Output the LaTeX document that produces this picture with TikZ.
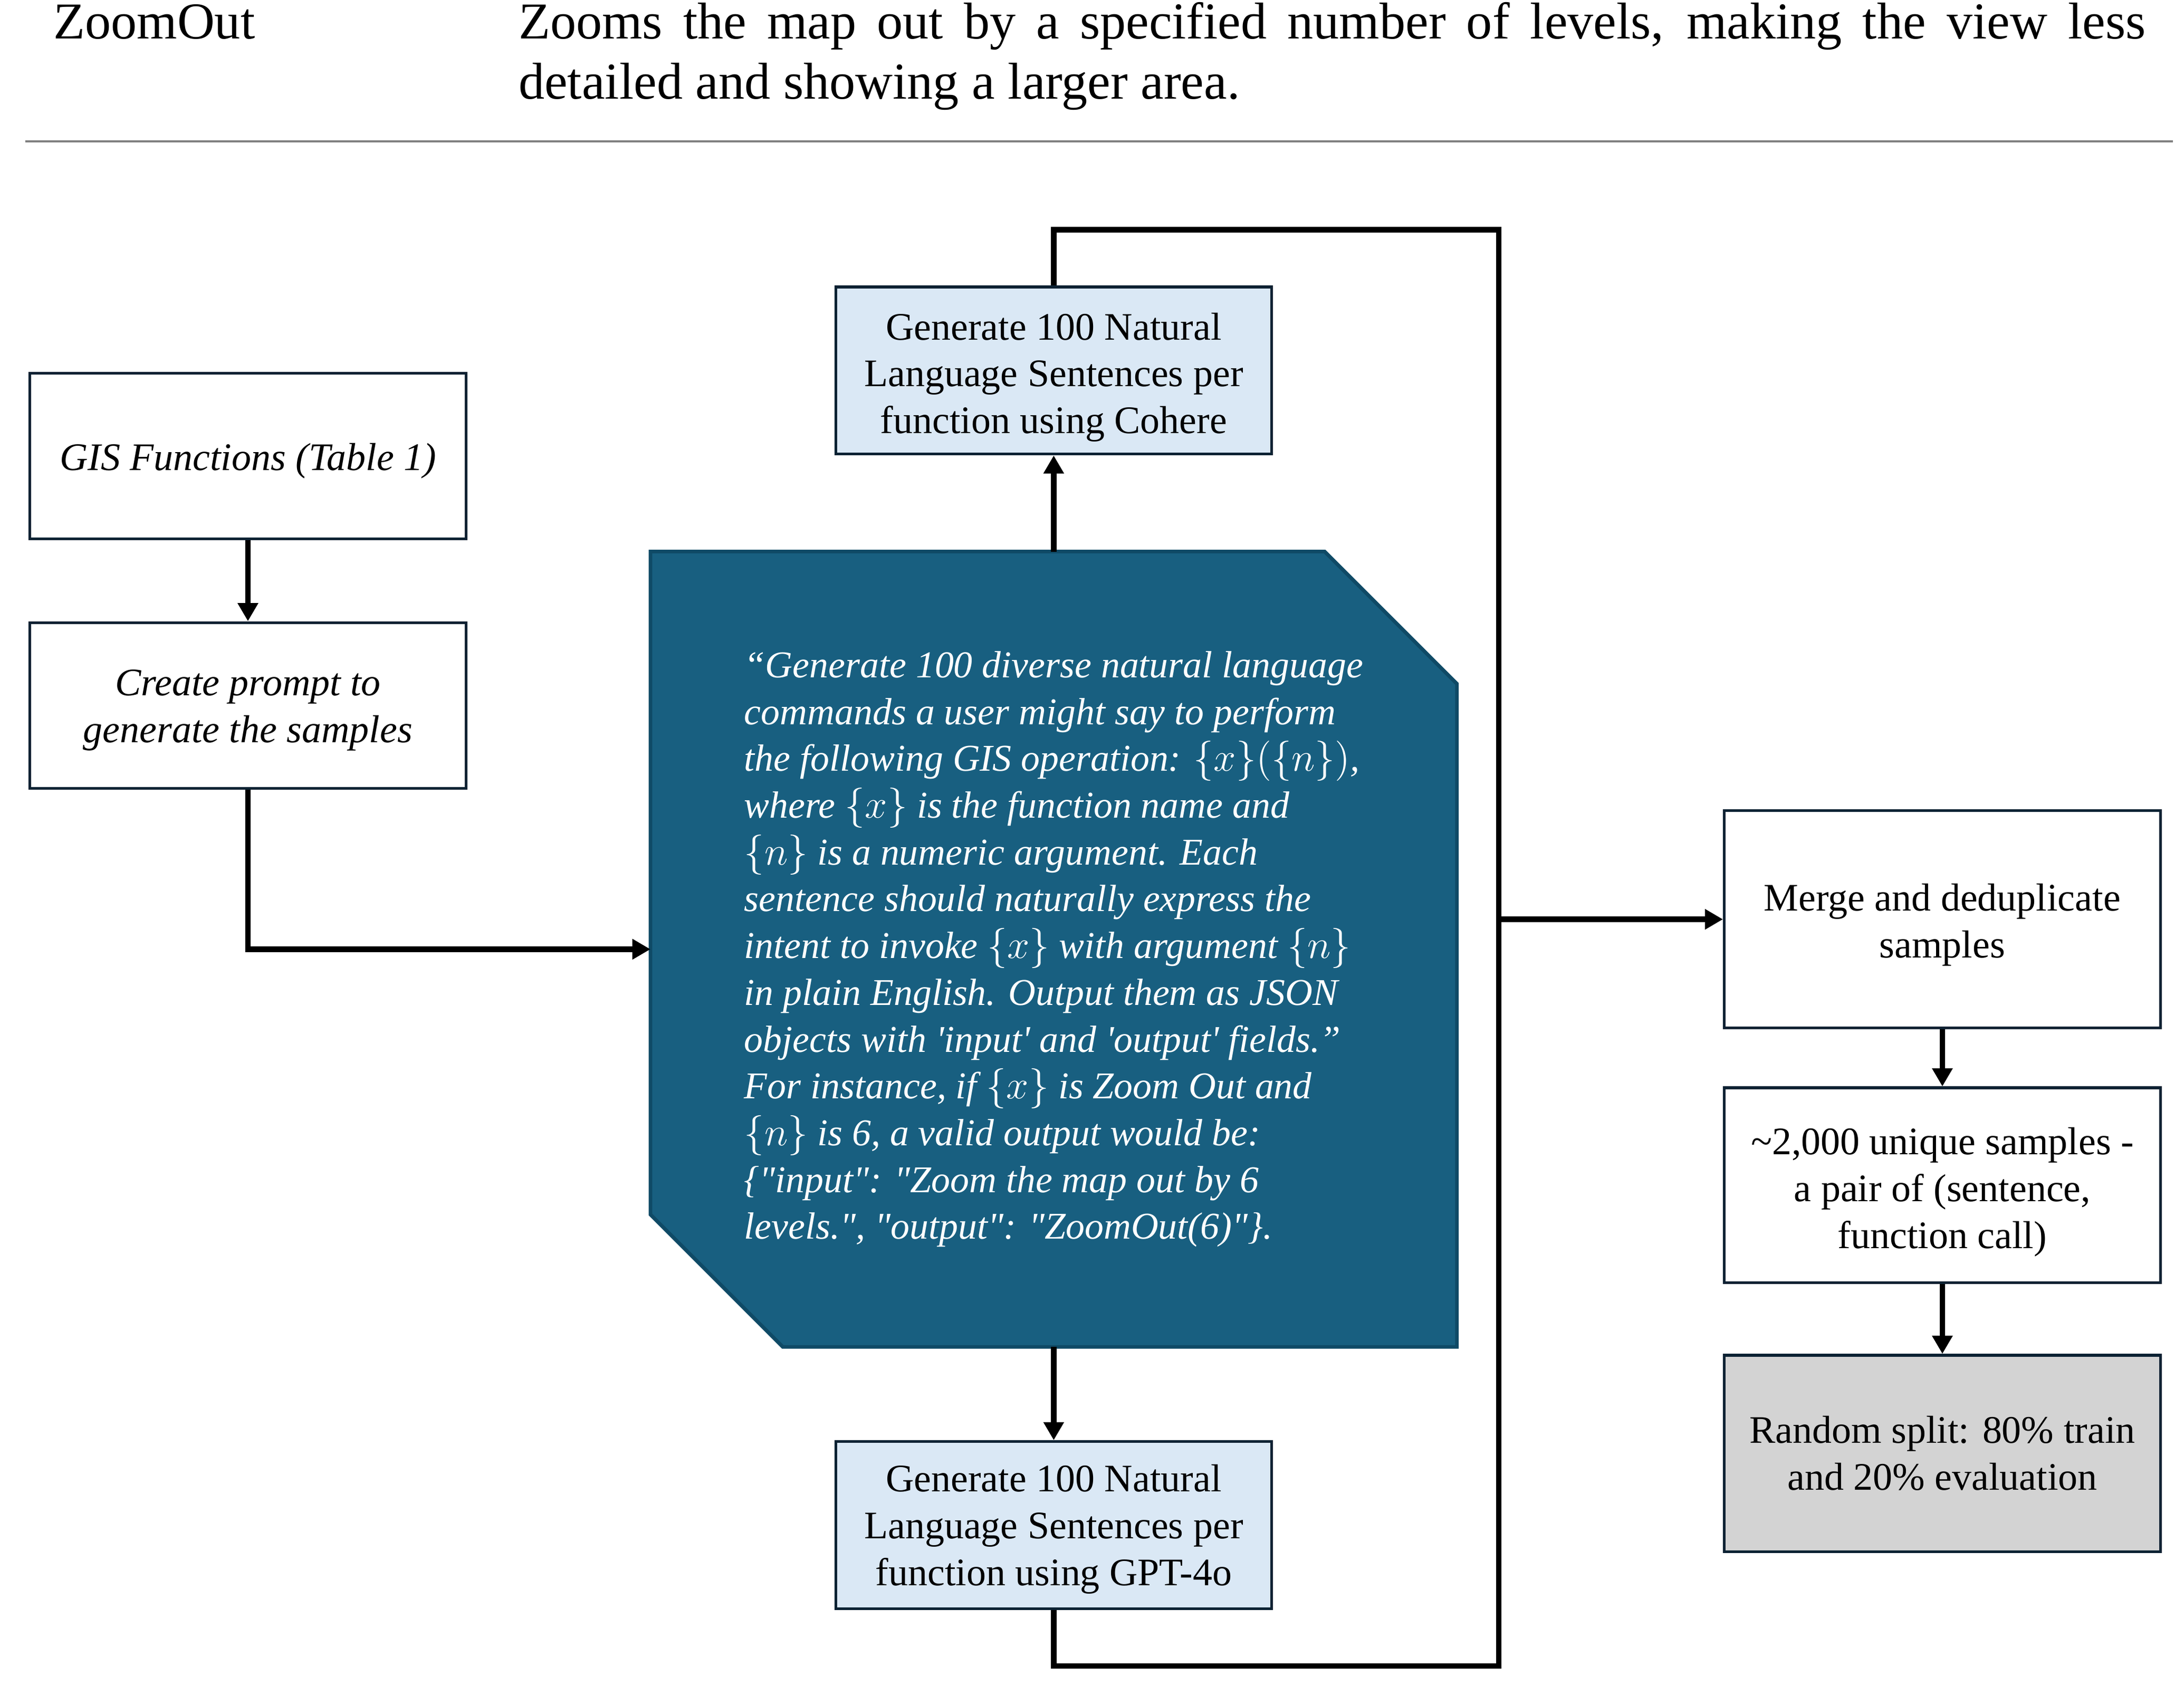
\documentclass[tikz,border=0pt]{standalone}
\usepackage{fontspec}
\setmainfont{Liberation Serif}
\newfontfamily\plainserif{Liberation Serif}
\usepackage{xcolor}
\usepackage{tikz}
\usetikzlibrary{positioning}
\usetikzlibrary{arrows.meta}
\usetikzlibrary{backgrounds}

\definecolor{boxline}{RGB}{12,34,51}
\definecolor{genblue}{RGB}{218,232,245}
\definecolor{splitgray}{RGB}{211,211,211}
\definecolor{promptfill}{RGB}{24,95,128}
\definecolor{promptline}{RGB}{15,74,102}
\definecolor{rulegray}{RGB}{128,128,128}

\tikzset{
	stepbox/.style={draw=boxline,line width=1pt,fill=white,minimum width=156.5pt,align=center,inner sep=2pt,font=\fontsize{14}{16.8}\selectfont},
	notebox/.style={stepbox,font=\fontsize{14}{16.8}\selectfont\itshape},
	flow/.style={line width=2pt},
	arrow/.style={flow,-{Triangle[length=6.5pt,width=7pt]}},
}

\begin{document}
\begin{tikzpicture}[x=0.5pt,y=-0.5pt]
	\useasboundingbox (0,0) rectangle (1568,1224);
	
	% table row above the figure
	\node[anchor=base west,inner sep=0,font=\fontsize{18.6}{21.5}\selectfont] (fname) at (38,28) {ZoomOut};
	\node[anchor=base west,inner sep=0,font=\fontsize{18.6}{21.5}\selectfont] (desc) at (372,28) {\makebox[584pt][s]{Zooms the map out by a specified number of levels, making the view less}};
	\node[anchor=base west,inner sep=0,font=\fontsize{18.6}{21.5}\selectfont] (desc2) at (372,71) {detailed and showing a larger area.};
	\draw[rulegray,line width=0.9pt] (18,101.5) -- (1560,101.5);
	
	% left column
	\node[notebox,minimum height=59.5pt,text height=13.2pt] (gis) at (178,327.5) {GIS Functions (Table 1)};
	\node[notebox,minimum height=59.5pt,text height=29.4pt,below=29pt of gis] (create) {Create prompt to\\generate the samples};
	
	% prompt
	\node[text=white,font=\plainserif\itshape\fontsize{13.6}{16.8}\selectfont,align=left,minimum width=289.5pt,minimum height=285.5pt,inner sep=0pt,outer sep=0pt] (prompt) at (756.5,681.5) {“Generate 100 diverse natural language\\
		commands a user might say to perform\\
		the following GIS operation: $\{x\}(\{n\})$,\\
		where $\{x\}$ is the function name and\\
		$\{n\}$ is a numeric argument. Each\\
		sentence should naturally express the\\
		intent to invoke $\{x\}$ with argument $\{n\}$\\
		in plain English. Output them as JSON\\
		objects with 'input' and 'output' fields.”\\
		For instance, if $\{x\}$ is Zoom Out and\\
		$\{n\}$ is 6, a valid output would be:\\
		\{"input": "Zoom the map out by 6\\
		levels.", "output": "ZoomOut(6)"\}.};
	\begin{scope}[on background layer]
		\filldraw[fill=promptfill,draw=promptline,line width=1.3pt] (prompt.north west) -- ([xshift=-47.5pt]prompt.north east) -- ([yshift=-47.5pt]prompt.north east) -- (prompt.south east) -- ([xshift=47.5pt]prompt.south west) -- ([yshift=47.5pt]prompt.south west) -- cycle;
	\end{scope}
	
	\node[stepbox,fill=genblue,minimum height=60pt,text height=48.2pt,above=34.5pt of prompt] (cohere) {Generate 100 Natural\\Language Sentences per\\function using Cohere};
	\node[stepbox,fill=genblue,minimum height=60pt,text height=46.2pt,below=33.5pt of prompt] (gpt) {Generate 100 Natural\\Language Sentences per\\function using GPT-4o};
	
	% right column
	\node[stepbox,minimum height=78pt,text height=30.4pt] (merge) at (1394.5,660) {Merge and deduplicate\\samples};
	\node[stepbox,minimum height=70pt,text height=48.2pt,below=20.5pt of merge] (unique) {\textasciitilde2,000 unique samples -\\a pair of (sentence,\\function call)};
	\node[stepbox,fill=splitgray,minimum height=70.5pt,below=25pt of unique] (split) {Random split: 80\% train\\and 20\% evaluation};
	
	% connectors
	\coordinate (looptop) at (1076,165);
	\coordinate (loopbot) at (1076,1196);
	\draw[arrow] (gis) -- (create);
	\draw[arrow] (create.south) |- (prompt.west);
	\draw[arrow] (prompt) -- (cohere);
	\draw[arrow] (prompt) -- (gpt);
	\draw[flow] (cohere.north) |- (looptop) -- (loopbot) -| (gpt.south);
	\draw[arrow] (loopbot |- merge.west) -- (merge.west);
	\draw[arrow] (merge) -- (unique);
	\draw[arrow] (unique) -- (split);
\end{tikzpicture}
\end{document}
